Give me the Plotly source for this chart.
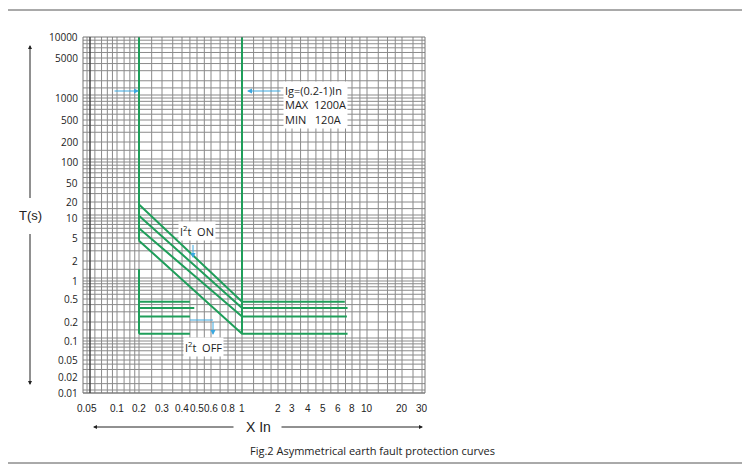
import numpy as np
import plotly.graph_objects as go

# Axis calibration (value -> chart position)
x_tick_vals = [0.05, 0.1, 0.2, 0.3, 0.4, 0.5, 0.6, 0.8, 1, 2, 3, 4, 5, 6, 8, 10, 20, 30]
x_tick_text = ["0.05", "0.1", "0.2", "0.3", "0.4", "0.5", "0.6", "0.8", "1", "2", "3", "4", "5", "6", "8", "10", "20", "30"]
x_tick_pos = [87, 117, 139, 162, 182, 197, 211, 228, 242, 278, 292, 308, 323, 338, 352, 367, 402, 422]
y_tick_vals = [10000, 5000, 1000, 500, 200, 100, 50, 20, 10, 5, 2, 1, 0.5, 0.2, 0.1, 0.05, 0.02, 0.01]
y_tick_text = ["10000", "5000", "1000", "500", "200", "100", "50", "20", "10", "5", "2", "1", "0.5", "0.2", "0.1", "0.05", "0.02", "0.01"]
y_tick_pos = [37, 58, 98, 120, 142, 162, 183, 202, 218, 238, 261, 281, 299, 322, 341, 360, 377, 393]

# Curves (X In, T s)
left_vert_x = [0.2, 0.2]; left_vert_y = [10000, 4.5]
right_vert_x = [1, 1]; right_vert_y = [10000, 0.13]
band_start_t = [18, 11, 7, 4.5]
band_end_t = [0.45, 0.35, 0.25, 0.13]
band_right_end_x = [6.9, 7.3, 7.2, 7.3]
off_t = [0.45, 0.35, 0.25, 0.13]
off_end_x = [0.45, 0.48, 0.45, 0.45]
off_vert_y = [1.5, 0.13]

def xp(v):
    return float(np.interp(np.log10(v), np.log10(x_tick_vals), x_tick_pos))
def yp(v):
    lv = np.log10(y_tick_vals)[::-1]
    return float(np.interp(np.log10(v), lv, y_tick_pos[::-1]))

fig = go.Figure()
shapes = []
grid_c = "#8a8a8a"
xg = sorted(set([0.05,0.06,0.07,0.08,0.09,0.1,0.125,0.15,0.175,0.2,0.25,0.3,0.35,0.4,0.45,0.5,0.55,0.6,0.7,0.8,0.9,1,
                 1.25,1.5,1.75,2,2.5,3,3.5,4,4.5,5,5.5,6,7,8,9,10,12.5,15,17.5,20,25,30]))
for v in xg:
    shapes.append(dict(type="line", x0=xp(v), x1=xp(v), y0=37, y1=393, line=dict(color=grid_c, width=1), layer="below"))
for d in [0.01, 0.1, 1, 10, 100, 1000]:
    for m in [1, 1.5, 2, 3, 4, 5, 6, 7, 8, 9]:
        v = d * m
        if v > 10000: continue
        shapes.append(dict(type="line", x0=83, x1=425, y0=yp(v), y1=yp(v), line=dict(color=grid_c, width=1), layer="below"))
    shapes.append(dict(type="line", x0=83, x1=425, y0=yp(d)-3, y1=yp(d)-3, line=dict(color=grid_c, width=1), layer="below"))
shapes.append(dict(type="rect", x0=83, x1=425, y0=37, y1=393, line=dict(color="#777", width=1)))
shapes.append(dict(type="line", x0=90, x1=90, y0=37, y1=393, line=dict(color="#444", width=1.5)))

g = "#1f9e5a"
def seg(xs, ys):
    fig.add_trace(go.Scatter(x=[xp(a) for a in xs], y=[yp(b) for b in ys], mode="lines",
                             line=dict(color=g, width=2), showlegend=False, hoverinfo="skip"))
seg(left_vert_x, left_vert_y)
seg(right_vert_x, right_vert_y)
for s, e, xe in zip(band_start_t, band_end_t, band_right_end_x):
    seg([0.2, 1, xe], [s, e, e])
for t, xe in zip(off_t, off_end_x):
    seg([0.2, xe], [t, t])
seg([0.2, 0.2], off_vert_y)

ann = []
blue = "#3aa8e0"
def arrow(x, y, ax, ay, c=blue, size=1):
    ann.append(dict(x=x, y=y, ax=ax, ay=ay, xref="x", yref="y", axref="x", ayref="y", showarrow=True,
                    arrowhead=2, arrowsize=size, arrowcolor=c, arrowwidth=1, text=" ", font=dict(size=1)))
arrow(139, 91, 113, 91)
arrow(247, 91, 282, 91)
ann.append(dict(x=283, y=105, xref="x", yref="y", xanchor="left", showarrow=False, align="left", bgcolor="white",
                text="Ig=(0.2-1)In<br>MAX  1200A<br>MIN   120A", font=dict(size=11, color="#222", family="Open Sans")))
ann.append(dict(x=197, y=231, xref="x", yref="y", showarrow=False, bgcolor="white", text="I<sup>2</sup>t  ON", font=dict(size=11, color="#222", family="Open Sans")))
arrow(193, 258, 193, 243)
ann.append(dict(x=203, y=347, xref="x", yref="y", showarrow=False, bgcolor="white", text="I<sup>2</sup>t  OFF", font=dict(size=11, color="#222", family="Open Sans")))
shapes.append(dict(type="line", x0=190, x1=213, y0=320, y1=320, line=dict(color=blue, width=1)))
arrow(213, 335, 213, 320)

for v, t in zip(x_tick_vals, x_tick_text):
    ann.append(dict(x=xp(v), y=408, xref="x", yref="y", showarrow=False, text=t, font=dict(size=10, color="#222", family="Liberation Sans")))
for v, t in zip(y_tick_vals, y_tick_text):
    ann.append(dict(x=80, y=yp(v), xref="x", yref="y", xanchor="right", showarrow=False, text=t, font=dict(size=10, color="#222", family="Open Sans")))

ann.append(dict(x=30, y=215, xref="x", yref="y", showarrow=False, text="T(s)", font=dict(size=13, color="#222", family="Liberation Sans")))
arrow(30, 45, 30, 200, "#222", 0.8)
arrow(30, 385, 30, 232, "#222", 0.8)
ann.append(dict(x=258, y=427, xref="x", yref="y", showarrow=False, text="X In", font=dict(size=14, color="#222", family="Liberation Sans")))
arrow(93, 427, 235, 427, "#222", 0.8)
arrow(423, 427, 280, 427, "#222", 0.8)
ann.append(dict(x=372, y=450, xref="x", yref="y", showarrow=False, text="Fig.2 Asymmetrical earth fault protection curves", font=dict(size=11, color="#222", family="Open Sans")))
shapes.append(dict(type="line", x0=5, x1=745, y0=10, y1=10, line=dict(color="#555", width=1)))
shapes.append(dict(type="line", x0=5, x1=745, y0=463, y1=463, line=dict(color="#555", width=1)))

# page has an 8px body margin: shift the coordinate window to compensate
fig.update_layout(width=750, height=471, margin=dict(l=0, r=0, t=0, b=0), plot_bgcolor="white", paper_bgcolor="white",
                  shapes=shapes, annotations=ann,
                  xaxis=dict(range=[8, 758], visible=False, fixedrange=True),
                  yaxis=dict(range=[479, 8], visible=False, fixedrange=True))
fig.write_html("out.html")
